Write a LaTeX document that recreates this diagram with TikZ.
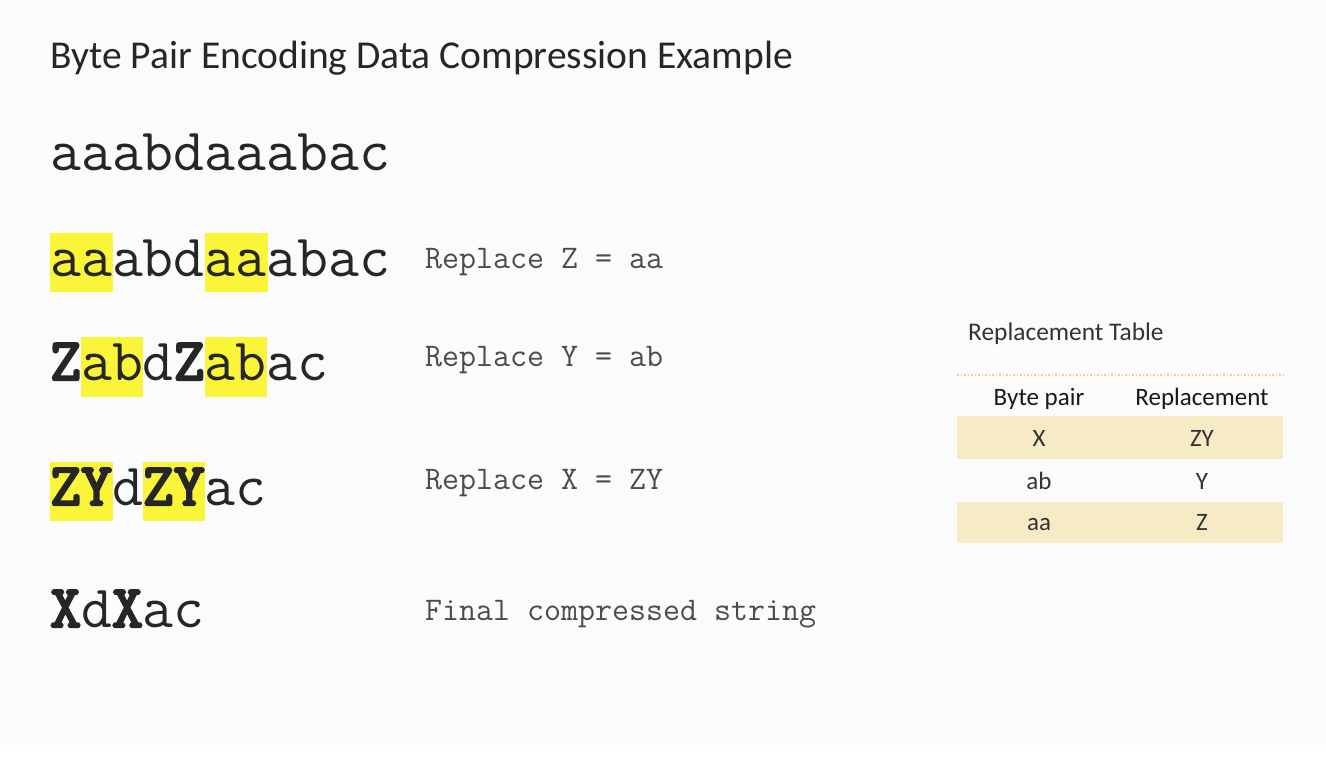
\documentclass[tikz,border=0pt]{standalone}
\usepackage{fontspec}
\setmainfont{Carlito}
\newfontfamily\ttbold{Latin Modern Mono}[FakeBold=4]
\newcommand{\bz}[1]{{\ttbold #1}}
\begin{document}
\begin{tikzpicture}[x=1pt,y=-1pt,
  title/.style={anchor=base west,inner sep=0pt,font=\fontsize{39.5}{44}\selectfont,text=black!85},
  str/.style={anchor=base west,inner sep=0pt,font=\ttfamily\fontsize{60}{62}\selectfont,text=black!85},
  lbl/.style={anchor=base west,inner sep=0pt,font=\ttfamily\fontsize{33}{36}\selectfont,text=black!70},
  hl/.style={fill=hlyellow,draw=none},
  cell/.style={anchor=base,inner sep=0pt,font=\fontsize{25}{28}\selectfont,text=black!80},
  shade/.style={fill=tabtan,draw=none}]
\definecolor{hlyellow}{HTML}{FBF53A}
\definecolor{tabtan}{HTML}{F7EBC6}
\definecolor{bgc}{HTML}{FBFBFC}
\useasboundingbox (0,0) rectangle (1326,764);
\fill[white] (0,0) rectangle (1326,764);
\fill[bgc] (0,0) rectangle (1326,745);
% title
\node[title] (title) at (50,68) {Byte Pair Encoding Data Compression Example};
% highlights
\fill[hl] (50,233) rectangle (113,292);
\fill[hl] (205,233) rectangle (268,292);
\fill[hl] (81,337) rectangle (143,397);
\fill[hl] (205,337) rectangle (267,397);
\fill[hl] (50,462) rectangle (113,521);
\fill[hl] (143,462) rectangle (205,521);
% strings
\node[str] (s1) at (50,170) {aaabdaaabac};
\node[str] (s2) at (50,276) {aaabdaaabac};
\node[str] (s3) at (50,380) {\bz{Z}abd\bz{Z}abac};
\node[str] (s4) at (50,505) {\bz{ZY}d\bz{ZY}ac};
\node[str] (s5) at (50,627) {\bz{X}d\bz{X}ac};
% labels
\node[lbl] (l2) at (425,268) {Replace Z = aa};
\node[lbl] (l3) at (425,366) {Replace Y = ab};
\node[lbl] (l4) at (425,489) {Replace X = ZY};
\node[lbl] (l5) at (425,620) {Final compressed string};
% table
\node[anchor=base west,inner sep=0pt,font=\fontsize{25.4}{28}\selectfont,text=black!80] (tt) at (968,340) {Replacement Table};
\draw[tabtan!70!orange,line width=1.5pt,dotted] (957,375) -- (1283,375);
\fill[shade] (957,416) rectangle (1283,459);
\fill[shade] (957,502) rectangle (1283,543);
\node[cell,text=black!90] (h1) at (1039,405) {Byte pair};
\node[cell,text=black!90] (h2) at (1202,405) {Replacement};
\node[cell] (a1) at (1039,446) {X};
\node[cell] (b1) at (1202,446) {ZY};
\node[cell] (a2) at (1039,489) {ab};
\node[cell] (b2) at (1202,489) {Y};
\node[cell] (a3) at (1039,530) {aa};
\node[cell] (b3) at (1202,530) {Z};
\end{tikzpicture}
\end{document}
